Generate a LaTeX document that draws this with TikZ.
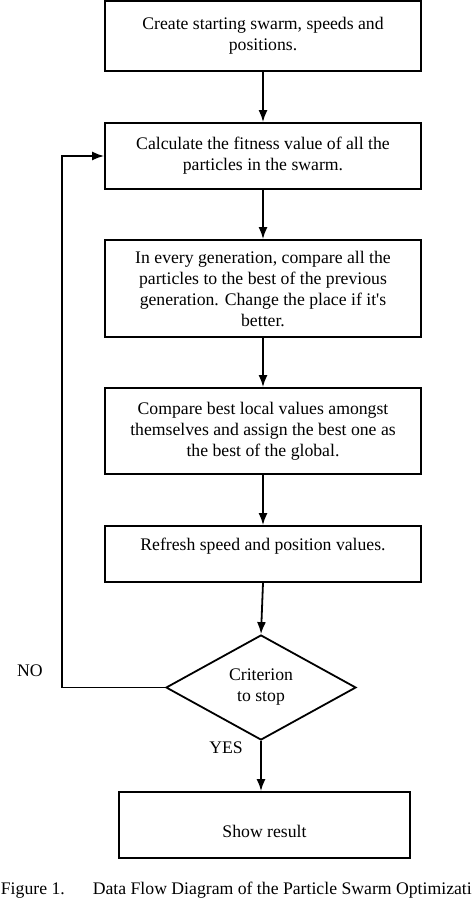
\documentclass[tikz,border=0pt]{standalone}
\usepackage{fontspec}
\setmainfont{Liberation Serif}
\usetikzlibrary{positioning,shapes.geometric,arrows.meta}

\begin{document}
\begin{tikzpicture}[x=1pt,y=-1pt,>={Latex[length=12pt,width=9pt]},line width=1.8pt,
  every node/.style={font=\fontsize{17.7}{21}\selectfont},
  stepbox/.style={draw,minimum width=316pt,align=center,inner sep=2pt},
  test/.style={diamond,draw,minimum width=190pt,minimum height=105pt,inner sep=0pt,align=center}]
\useasboundingbox (0,0) rectangle (474,901);
\path
(263,36)  node[stepbox,minimum height=70pt] (start) {Create starting swarm, speeds and\\positions.}
+(0,120)  node[stepbox,minimum height=66pt] (calc) {Calculate the fitness value of all the\\particles in the swarm.}
+(0,252.5) node[stepbox,minimum height=97pt] (cmp) {In every generation, compare all the\\particles to the best of the previous\\generation. Change the place if it\textquotesingle s\\better.}
+(0,395)  node[stepbox,minimum height=86pt] (glob) {Compare best local values amongst\\themselves and assign the best one as\\the best of the global.}
+(0,518)  node[stepbox,minimum height=56pt,text depth=20pt] (upd) {Refresh speed and position values.}
(261,687.5) node[test] (stop) {Criterion\\to stop}
(264.5,825) node[draw,minimum width=291pt,minimum height=66pt,text height=25pt] (show) {Show result}
(30,671)  node (no) {NO}
(226,748) node (yes) {YES}
(0,890)   node[anchor=west,inner sep=0pt] (cap) {Figure 1.\hspace{28pt}Data Flow Diagram of the Particle Swarm Optimizati};
\coordinate (back) at (62,687.5);
\draw[->] (start)--(calc);
\draw[->] (calc)--(cmp);
\draw[->] (cmp)--(glob);
\draw[->] (glob)--(upd);
\draw[->] (upd.south)--(stop.north);
\draw[->] (stop.south)--(show.north -| stop.south);
\draw[->] (stop.west)--(back)|-(calc.west);
\end{tikzpicture}
\end{document}
